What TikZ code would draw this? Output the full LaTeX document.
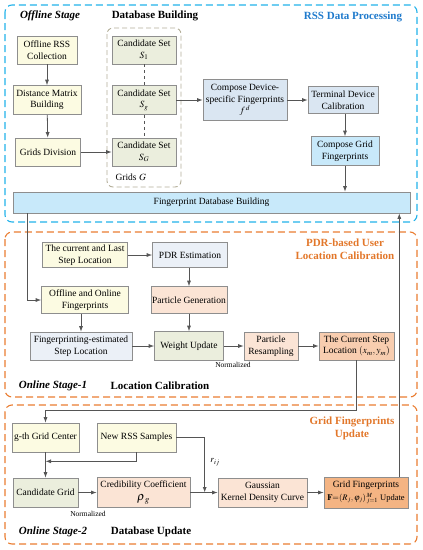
\documentclass[tikz,border=0pt]{standalone}
\usepackage{mathptmx}
\usepackage{fontspec}
\setmainfont{Liberation Serif}
\usetikzlibrary{arrows.meta}
\definecolor{boxline}{HTML}{8E8E8E}
\definecolor{arrline}{HTML}{555555}
\definecolor{yelfill}{HTML}{FCFBE2}
\definecolor{greenfill}{HTML}{EBEEDD}
\definecolor{paleblue}{HTML}{EBF0F7}
\definecolor{midblue}{HTML}{DAE6F2}
\definecolor{cyanfill}{HTML}{C8E9FA}
\definecolor{peachfill}{HTML}{FBE4D5}
\definecolor{salmonfill}{HTML}{F8CDAF}
\definecolor{orangefill}{HTML}{F4B483}
\definecolor{skyframe}{HTML}{22B2EA}
\definecolor{skytext}{HTML}{1F7ACC}
\definecolor{orframe}{HTML}{EA7D31}
\definecolor{ortext}{HTML}{E2772A}
\definecolor{gridframe}{HTML}{B3AE98}
\tikzset{
	box/.style={draw=boxline, line width=0.6pt, align=center, inner sep=1pt,
		font=\fontsize{9.5}{11.5}\selectfont},
	yelbox/.style={box, fill=yelfill},
	greenbox/.style={box, fill=greenfill},
	paleblbox/.style={box, fill=paleblue},
	midblbox/.style={box, fill=midblue},
	cyanbox/.style={box, fill=cyanfill},
	peachbox/.style={box, fill=peachfill},
	salmonbox/.style={box, fill=salmonfill},
	orangebox/.style={box, fill=orangefill},
	arr/.style={draw=arrline, line width=0.8pt, -{Latex[length=5.5pt,width=4pt]}},
	stagetitle/.style={font=\fontsize{11}{12}\selectfont\bfseries\itshape},
	parttitle/.style={font=\fontsize{11}{12}\selectfont\bfseries},
	blocktitle/.style={font=\fontsize{11}{13}\selectfont\bfseries, align=center},
	smalltxt/.style={font=\fontsize{7.5}{8}\selectfont, inner sep=0pt},
	skydash/.style={draw=skyframe, line width=1.1pt, dash pattern=on 7pt off 4pt, rounded corners=7pt},
	ordash/.style={draw=orframe, line width=1.1pt, dash pattern=on 7pt off 4pt, rounded corners=7pt},
}
\begin{document}
\begin{tikzpicture}[x=1pt,y=-1pt]
	\useasboundingbox (0,0) rectangle (423,550);
	% frames
	\draw[skydash] (5,5) rectangle (417,222);
	\draw[ordash] (5,232) rectangle (417,397);
	\draw[ordash] (5,405) rectangle (417,544);
	\draw[draw=gridframe, line width=0.9pt, dash pattern=on 5pt off 3pt, rounded corners=6pt] (107,28) rectangle (181,187);
	% titles
	\node[stagetitle] (offst) at (50,16) {Offline Stage};
	\node[parttitle] (dbb) at (155,16) {Database Building};
	\node[parttitle, text=skytext] (rssdp) at (353,17) {RSS Data Processing};
	\node[blocktitle, text=ortext] (pdrt) at (345,249) {PDR-based User\\Location Calibration};
	\node[stagetitle] (on1) at (53,386) {Online Stage-1};
	\node[parttitle] (lcal) at (160,386) {Location Calibration};
	\node[blocktitle, text=ortext] (gfut) at (352,428) {Grid Fingerprints\\Update};
	\node[stagetitle] (on2) at (53,532) {Online Stage-2};
	\node[parttitle] (dbu) at (151,532) {Database Update};
	\node[font=\fontsize{9.5}{11}\selectfont, anchor=west] (gridsg) at (112,177) {Grids $G$};

	% offline stage
	\node[yelbox, minimum width=60, minimum height=28] (orc) at (47,50) {Offline RSS\\Collection};
	\node[yelbox, minimum width=68, minimum height=29] (dmb) at (47,100) {Distance Matrix\\Building};
	\node[yelbox, minimum width=65, minimum height=28] (gdiv) at (48,152) {Grids Division};
	\node[greenbox, minimum width=64, minimum height=28] (s1) at (144,50) {Candidate Set\\$S_1$};
	\node[greenbox, minimum width=64, minimum height=29] (sg) at (144,100) {Candidate Set\\$S_g$};
	\node[greenbox, minimum width=64, minimum height=28] (sG) at (144,152) {Candidate Set\\$S_G$};
	\node[midblbox, minimum width=84, minimum height=41] (cdf) at (245,100) {Compose Device-\\specific Fingerprints\\$f^{\,d}$};
	\node[midblbox, minimum width=70, minimum height=27] (tdc) at (343,100) {Terminal Device\\Calibration};
	\node[cyanbox, minimum width=68, minimum height=29] (cgf) at (345,151) {Compose Grid\\Fingerprints};
	\node[cyanbox, minimum width=397, minimum height=21] (fdb) at (211.5,202.5) {Fingerprint Database Building};

	\draw[arr] (orc) -- (dmb);
	\draw[arr] (dmb) -- (gdiv);
	\draw[arr] (gdiv) -- (sG);
	\draw[draw=arrline, line width=0.7pt, dashed] (s1) -- (sg);
	\draw[draw=arrline, line width=0.7pt, dashed] (sg) -- (sG);
	\draw[arr] (sg) -- (cdf);
	\draw[arr] (cdf) -- (tdc);
	\draw[arr] (tdc.south -| cgf) -- (cgf);
	\draw[arr] (cgf) -- (cgf |- fdb.north);

	% online stage 1
	\node[yelbox, minimum width=85, minimum height=25] (cll) at (85,255) {The current and Last\\Step Location};
	\node[paleblbox, minimum width=75, minimum height=25] (pdr) at (190,255) {PDR Estimation};
	\node[yelbox, minimum width=87, minimum height=27] (oof) at (85,300) {Offline and Online\\Fingerprints};
	\node[peachbox, minimum width=76, minimum height=27] (pgen) at (189,300) {Particle Generation};
	\node[paleblbox, minimum width=102, minimum height=28] (fes) at (81,346) {Fingerprinting-estimated\\Step Location};
	\node[greenbox, minimum width=69, minimum height=29] (wu) at (189,346) {Weight Update};
	\node[peachbox, minimum width=54, minimum height=28] (prs) at (271,346) {Particle\\Resampling};
	\node[salmonbox, minimum width=75, minimum height=28] (csl) at (356.5,346) {The Current Step\\Location $\left(x_m, y_m\right)$};
	\node[smalltxt] (norm1) at (233,365) {Normalized};

	\draw[arr] ([xshift=15pt]fdb.south west) |- (oof.west);
	\draw[arr] (cll) -- (pdr);
	\draw[arr] (pdr.south -| pgen) -- (pgen);
	\draw[arr] (pgen) -- (wu);
	\draw[arr] (fes.north |- oof.south) -- (fes.north);
	\draw[arr] (fes) -- (wu);
	\draw[arr] (wu) -- (prs);
	\draw[arr] (prs) -- (csl);

	% online stage 2
	\node[yelbox, minimum width=67, minimum height=29] (gth) at (45.5,437.5) {g-th Grid Center};
	\node[yelbox, minimum width=79, minimum height=29] (nrs) at (136.5,437.5) {New RSS Samples};
	\node[greenbox, minimum width=65, minimum height=29] (cg) at (45.5,492.5) {Candidate Grid};
	\node[peachbox, minimum width=93, minimum height=30] (ccf) at (143.5,492.5) {Credibility Coefficient\\[1.5pt]{\large$\rho_{\,g}$}};
	\node[peachbox, minimum width=89, minimum height=29] (gkd) at (262.5,492.5) {Gaussian\\Kernel Density Curve};
	\node[orangebox, minimum width=84, minimum height=31] (gfu) at (366,492.5) {Grid Fingerprints\\[1.5pt]{\fontsize{8.5}{10}\selectfont$\mathbf{F}{=}(R_j,\varphi_j)_{\,j=1}^{\,M}$\ Update}};
	\node[smalltxt] (norm2) at (88,514) {Normalized};
	\node[font=\fontsize{9.5}{11}\selectfont] (rij) at (215,462) {$r_{ij}$};

	\draw[arr] (csl.south) |- ([yshift=12pt]gth.north) -- (gth.north);
	\draw[arr] (gth) -- (cg);
	\draw[arr] (nrs.south) |- ([yshift=-9pt]gth.south);
	\draw[arr] (cg) -- (ccf);
	\draw[arr] (nrs.east) -| ([xshift=-13pt]gkd.west);
	\draw[arr] (ccf) -- (gkd);
	\draw[arr] (gkd) -- (gfu);
	\draw[arr] ([xshift=-9pt]gfu.north east) -- ([xshift=-9pt]gfu.north east |- fdb.south);
\end{tikzpicture}
\end{document}
